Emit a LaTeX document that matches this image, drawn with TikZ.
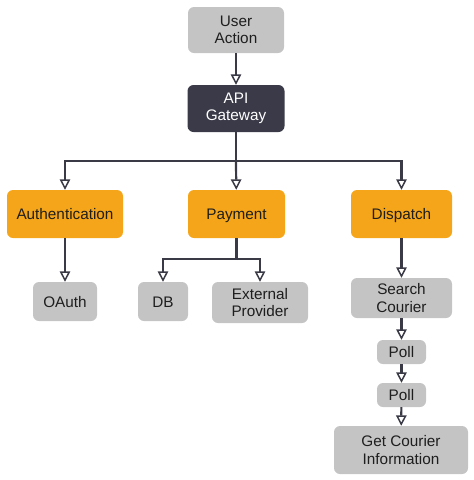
\documentclass[tikz,border=0pt]{standalone}
\usepackage{fontspec}
\setmainfont{Liberation Sans}
\usetikzlibrary{arrows.meta}
\definecolor{boxgray}{RGB}{196,196,196}
\definecolor{boxorange}{RGB}{245,165,25}
\definecolor{boxdark}{RGB}{58,58,72}
\definecolor{linecol}{RGB}{58,58,70}
\definecolor{txt}{RGB}{30,30,30}
\begin{document}
\begin{tikzpicture}[x=1pt,y=-1pt,
  base/.style={rounded corners=6pt, align=center, font=\fontsize{15.3}{17.5}\selectfont, text=txt, inner sep=0pt},
  oneline/.style={text height=14pt, text depth=3pt},
  graybox/.style={base, fill=boxgray},
  orangebox/.style={base, fill=boxorange},
  darkbox/.style={base, fill=boxdark, text=white},
  conn/.style={draw=linecol, line width=2.2pt, -{Triangle[open, length=10.5pt, width=10.5pt, line width=1.5pt]}},
  plain/.style={draw=linecol, line width=2.2pt}]
\useasboundingbox (0,0) rectangle (474,480);
\node[graybox, minimum width=96pt, minimum height=46pt] (user) at (236,30) {User\\Action};
\node[darkbox, minimum width=97pt, minimum height=47pt] (api) at (236,108.5) {API\\Gateway};
\node[orangebox, oneline, minimum width=116pt, minimum height=48pt] (auth) at (65,214) {Authentication};
\node[orangebox, oneline, minimum width=97pt, minimum height=48pt] (pay) at (236.5,214) {Payment};
\node[orangebox, oneline, minimum width=101pt, minimum height=48pt] (disp) at (401.5,214) {Dispatch};
\node[graybox, oneline, minimum width=64pt, minimum height=39pt] (oauth) at (65,301.5) {OAuth};
\node[graybox, oneline, minimum width=50pt, minimum height=39pt] (db) at (163,301.5) {DB};
\node[graybox, minimum width=96pt, minimum height=41pt] (ext) at (260,302.5) {External\\Provider};
\node[graybox, minimum width=101pt, minimum height=40pt] (search) at (401.5,298) {Search\\Courier};
\node[graybox, oneline, minimum width=49pt, minimum height=24pt] (poll1) at (401.5,352) {Poll};
\node[graybox, oneline, minimum width=49pt, minimum height=24pt] (poll2) at (401.5,395) {Poll};
\node[graybox, minimum width=134pt, minimum height=48pt] (info) at (401,450) {Get Courier\\Information};
\coordinate (hub) at (236,161);
\coordinate (phub) at (236.5,259);
\draw[conn] (user) -- (api);
\draw[plain] (api.south) -- (hub);
\draw[conn] (hub) -- (pay);
\draw[conn] (hub) -| (auth.north);
\draw[conn] (hub) -| (disp.north);
\draw[conn] (auth) -- (oauth);
\draw[plain] (pay.south) -- (phub);
\draw[conn] (phub) -| (db.north);
\draw[conn] (phub) -| (ext.north);
\draw[conn] (disp) -- (search);
\draw[conn] (search) -- (poll1);
\draw[conn] (poll1) -- (poll2);
\draw[conn] (poll2) -- (info);
\end{tikzpicture}
\end{document}
